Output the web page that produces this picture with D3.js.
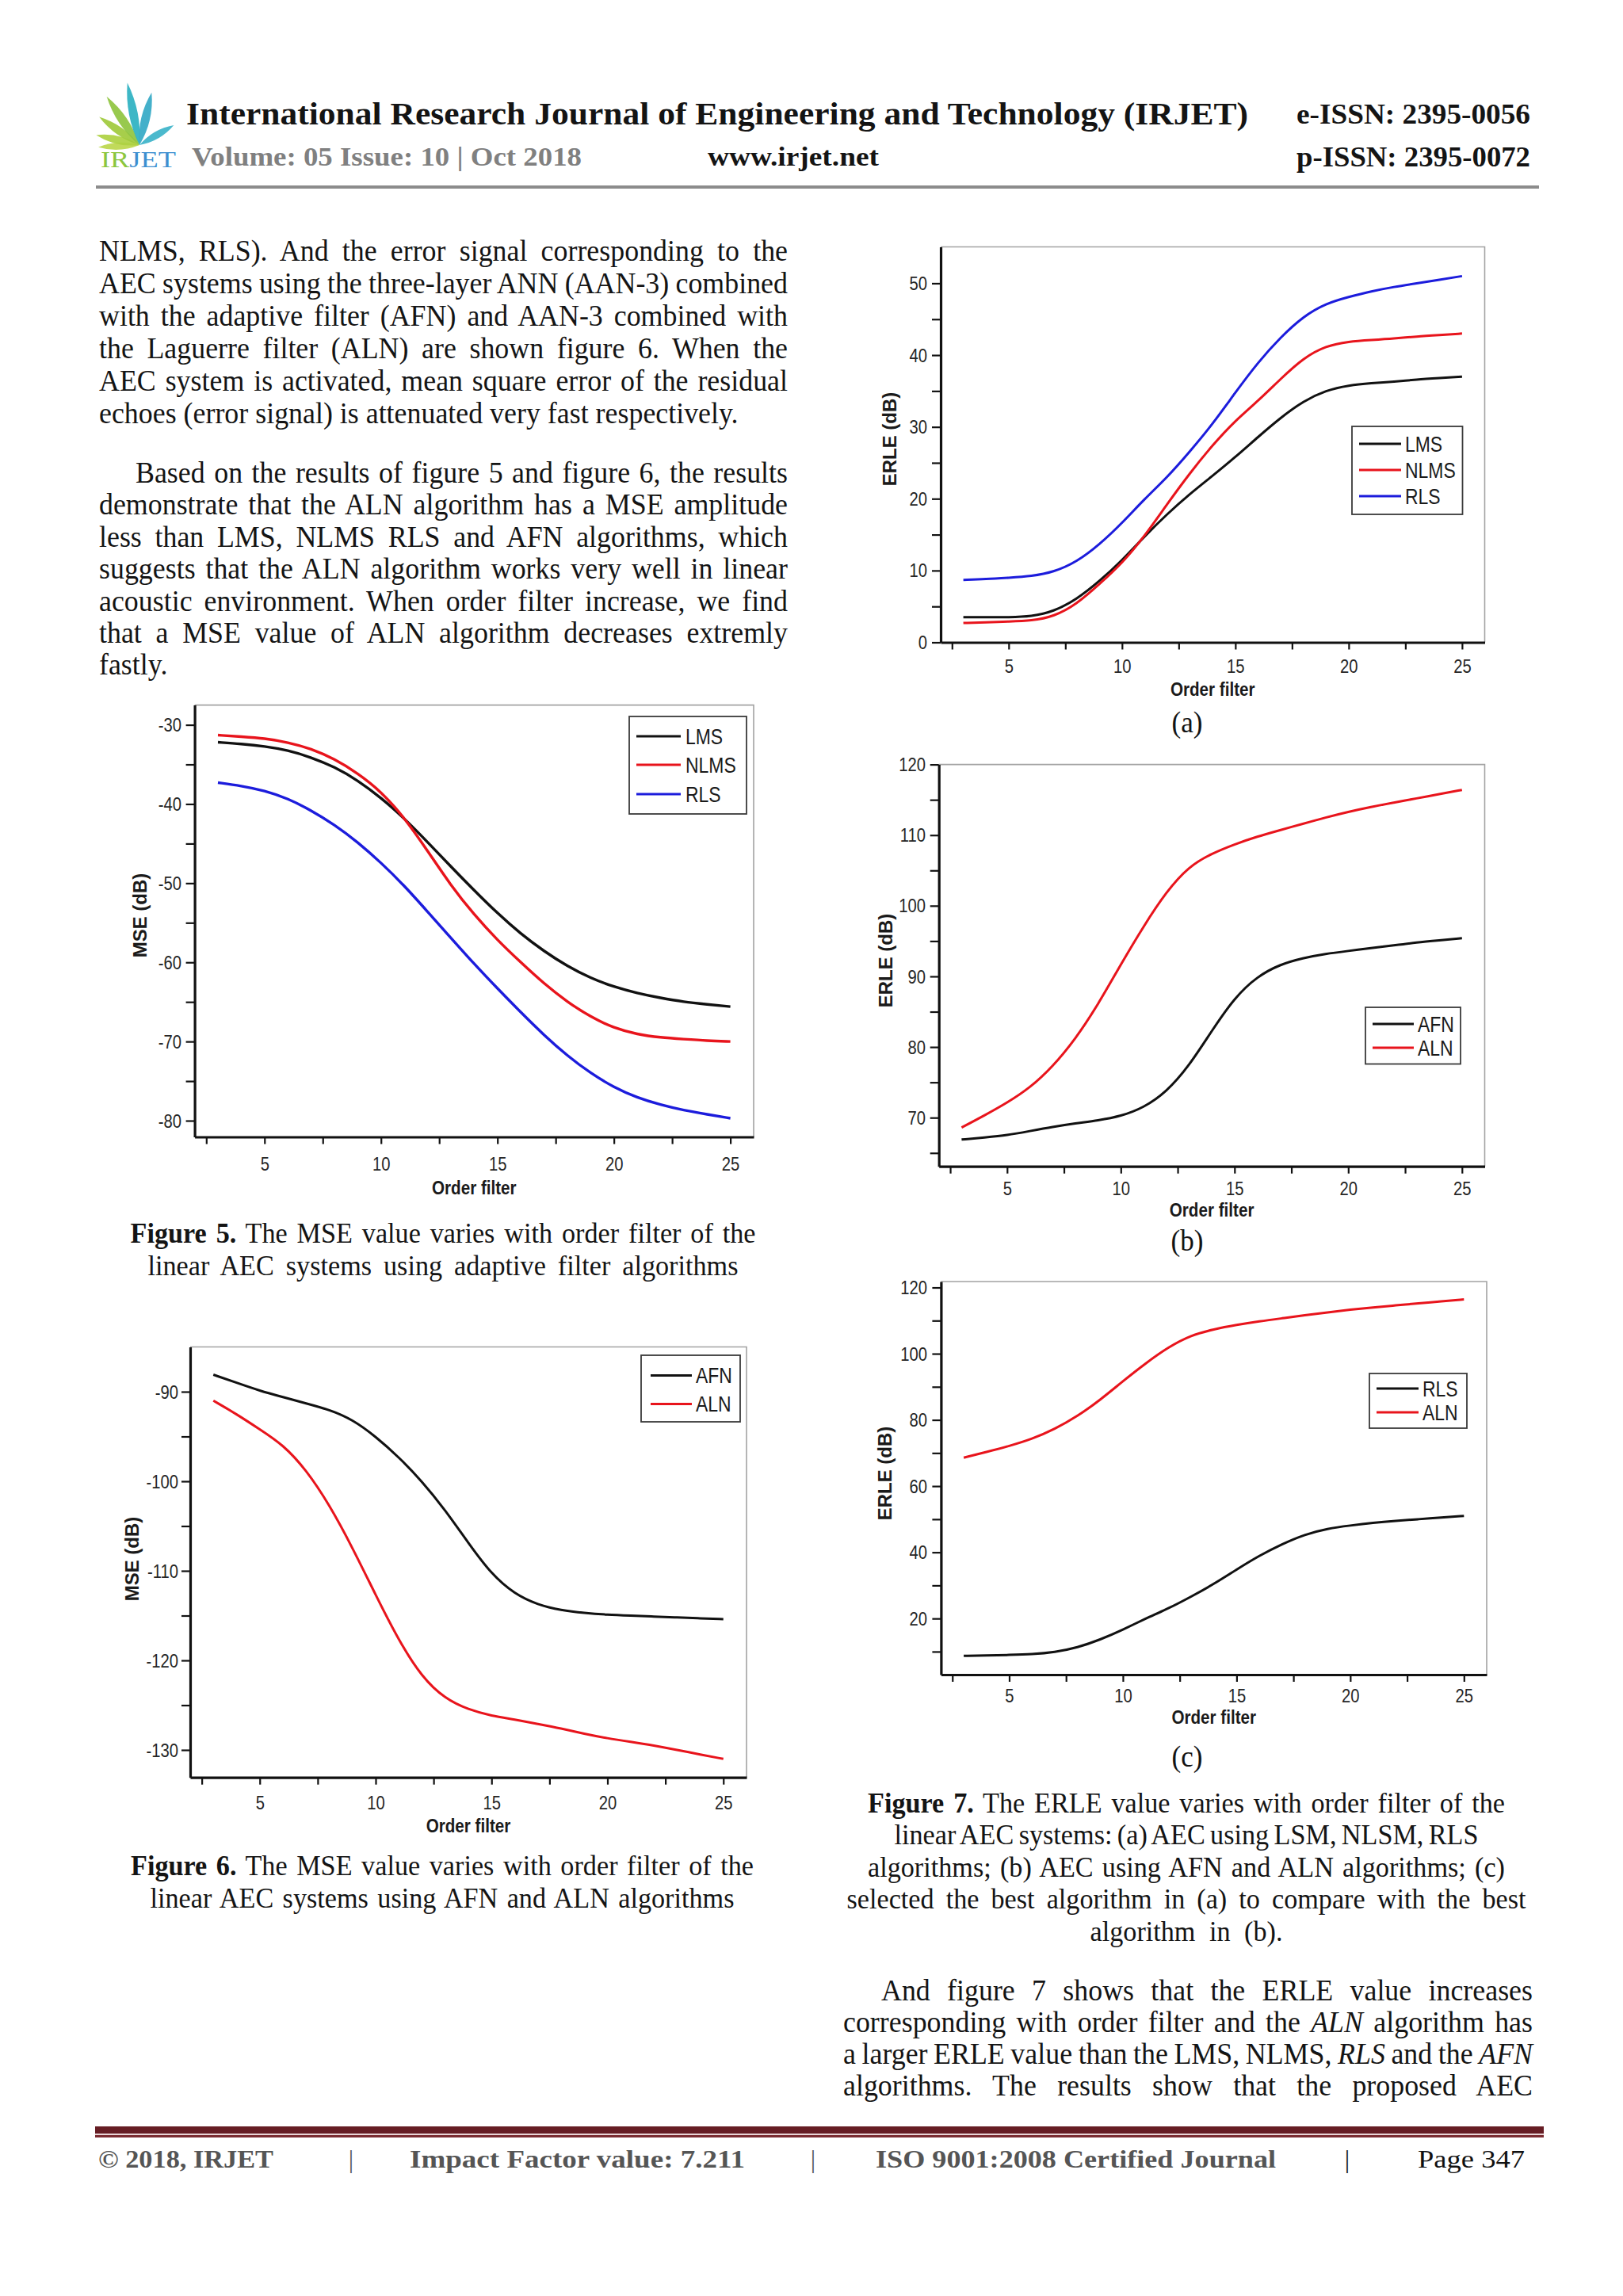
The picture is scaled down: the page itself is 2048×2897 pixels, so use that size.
<!DOCTYPE html>
<html>
<head>
<meta charset="utf-8">
<title>IRJET page 347</title>
<script src="https://cdn.jsdelivr.net/npm/d3@7"></script>
<style>
    body { margin: 0; padding: 0; background: #fff; }
    svg { display: block; }
</style>
</head>
<body>
<script>
    // order filter values shared by every figure
    const orderFilter = [3, 4, 5, 6, 7, 8, 9, 10, 11, 12, 13, 14, 15, 16, 17, 18, 19, 20, 21, 22, 23, 24, 25];

    // Figure 5: MSE (dB)
    const mseLMS  = [-32.2, -32.4, -32.7, -33.2, -34.1, -35.3, -37.0, -39.2, -41.8, -44.8, -47.9, -50.9, -53.8, -56.4, -58.6, -60.5, -62.0, -63.1, -63.9, -64.5, -65.0, -65.3, -65.6];
    const mseNLMS = [-31.3, -31.5, -31.7, -32.2, -33.0, -34.3, -36.1, -38.4, -41.7, -45.9, -50.3, -54.0, -57.2, -60.0, -62.7, -65.0, -66.9, -68.3, -69.1, -69.5, -69.7, -69.9, -70.0];
    const mseRLS  = [-37.3, -37.7, -38.3, -39.3, -40.8, -42.6, -44.8, -47.4, -50.3, -53.6, -56.9, -60.2, -63.3, -66.3, -69.2, -71.8, -74.0, -75.8, -77.1, -78.0, -78.7, -79.2, -79.7];

    // Figure 6: MSE (dB)
    const mseAFN = [-88.1, -89.0, -89.9, -90.6, -91.3, -92.0, -93.1, -95.0, -97.3, -100.0, -103.2, -106.9, -110.4, -112.6, -113.8, -114.4, -114.7, -114.9, -115.0, -115.1, -115.2, -115.3, -115.4];
    const mseALN = [-91.0, -92.5, -94.2, -95.9, -98.7, -102.6, -107.4, -112.7, -117.8, -121.9, -124.3, -125.5, -126.2, -126.6, -127.1, -127.6, -128.2, -128.7, -129.1, -129.5, -130.0, -130.5, -131.0];

    // Figure 7: ERLE (dB)
    const erleLMS  = [3.5, 3.5, 3.5, 3.6, 4.3, 6.0, 8.5, 11.4, 14.8, 17.9, 20.7, 23.2, 25.8, 28.6, 31.3, 33.6, 35.1, 35.8, 36.1, 36.3, 36.6, 36.8, 37.0];
    const erleNLMS = [2.7, 2.8, 2.9, 3.0, 3.6, 5.3, 8.1, 11.0, 14.8, 19.3, 23.6, 27.5, 30.9, 33.6, 36.7, 39.6, 41.3, 41.9, 42.1, 42.3, 42.6, 42.8, 43.0];
    const erleRLS  = [8.7, 8.8, 9.0, 9.2, 9.8, 11.2, 13.6, 16.6, 20.0, 23.0, 26.6, 30.4, 34.8, 39.0, 42.5, 45.4, 47.2, 48.1, 48.9, 49.5, 50.0, 50.5, 51.0];
    const erleAFN  = [66.9, 67.2, 67.5, 68.1, 68.7, 69.2, 69.6, 70.2, 71.4, 73.6, 77.3, 82.3, 87.0, 90.0, 91.7, 92.6, 93.2, 93.6, 94.0, 94.4, 94.8, 95.1, 95.4];
    const erleALN  = [68.6, 70.3, 72.1, 74.2, 77.2, 81.1, 86.0, 91.7, 97.1, 102.0, 105.6, 107.4, 108.7, 109.8, 110.7, 111.6, 112.5, 113.3, 114.0, 114.6, 115.2, 115.8, 116.4];

    // ticks
    const xTicks = [2.5, 5, 7.5, 10, 12.5, 15, 17.5, 20, 22.5, 25];
    const fig5YTicks = [-80, -75, -70, -65, -60, -55, -50, -45, -40, -35, -30];
    const fig6YTicks = [-130, -125, -120, -115, -110, -105, -100, -95, -90];
    const fig7aYTicks = [0, 5, 10, 15, 20, 25, 30, 35, 40, 45, 50];
    const fig7bYTicks = [65, 70, 75, 80, 85, 90, 95, 100, 105, 110, 115, 120];
    const fig7cYTicks = [10, 20, 30, 40, 50, 60, 70, 80, 90, 100, 110, 120];

    const BLACK = "#111111", RED = "#e8141c", BLUE = "#1c1cdc";
    const SANS = "'Liberation Sans', Arial, sans-serif";
    const SERIF = "'Liberation Serif', 'Times New Roman', serif";

    const svg = d3.select("body").append("svg")
        .attr("width", 2048)
        .attr("height", 2897);

    svg.append("rect").attr("width", 2048).attr("height", 2897).attr("fill", "#fff");

    // ---------- text helpers ----------
    function parseParts(str) {
        return str.split(/(\*\*[^*]+\*\*|\*[^*]+\*)/).filter(s => s.length).map(s => {
            if (s.startsWith("**")) return { t: s.slice(2, -2), b: true };
            if (s.startsWith("*")) return { t: s.slice(1, -1), i: true };
            return { t: s };
        });
    }

    // o.sx squeezes the glyphs sideways (the page font is a bit narrower than Liberation Serif)
    function textLine(str, x, y, o) {
        const sx = o.sx || 1;
        const t = svg.append("text")
            .attr("transform", `translate(${x},${y}) scale(${sx},1)`)
            .attr("dy", "0.35em")
            .attr("font-family", o.family || SERIF)
            .attr("font-size", o.size)
            .attr("font-weight", o.weight || null)
            .attr("fill", o.color || "#141414")
            .attr("text-anchor", o.anchor || "start")
            .style("white-space", "pre");
        const parts = parseParts(str);
        parts.forEach(p => {
            t.append("tspan").text(p.t)
                .attr("font-style", p.i ? "italic" : null)
                .attr("font-weight", p.b ? "bold" : null);
        });
        if (o.width) {
            const w = t.node().getComputedTextLength();
            const n = (parts.map(p => p.t).join("").match(/ /g) || []).length;
            if (n) t.style("word-spacing", ((o.width / sx - w) / n) + "px");
        }
        if (o.length) {
            t.attr("textLength", o.length / sx).attr("lengthAdjust", "spacingAndGlyphs");
        }
        return t;
    }

    function paragraph(lines, o) {
        lines.forEach((line, i) => {
            const first = i === 0 && o.indent;
            const x = first ? o.x + o.indent : o.x;
            const justify = o.justifyLast || i < lines.length - 1;
            textLine(line, x, o.y + i * o.step, {
                size: o.size,
                sx: 0.97,
                width: justify ? o.width - (first ? o.indent : 0) : null
            });
        });
    }

    // ---------- header ----------
    const logo = svg.append("g").attr("transform", "translate(176,183)");
    const petals = [
        { a: -93, len: 52, w: 9, c: "#bcd74c" },
        { a: -77, len: 56, w: 10, c: "#aed141" },
        { a: -55, len: 62, w: 10, c: "#9fca3c" },
        { a: -34, len: 74, w: 11, c: "#8fc43f" },
        { a: -11, len: 80, w: 11, c: "#2cb1c1" },
        { a: 13, len: 68, w: 11, c: "#34a9c6" },
        { a: 60, len: 50, w: 9, c: "#3cb3c9" }
    ];
    logo.selectAll("path").data(petals).join("path")
        .attr("d", d => `M0,0Q${d.w},${-d.len / 2} 0,${-d.len}Q${-d.w},${-d.len / 2} 0,0Z`)
        .attr("fill", d => d.c)
        .attr("opacity", 0.92)
        .attr("transform", d => `rotate(${d.a})`);

    const irjet = svg.append("text")
        .attr("x", 127).attr("y", 200).attr("dy", "0.35em")
        .attr("font-family", SERIF).attr("font-size", 30)
        .attr("textLength", 95).attr("lengthAdjust", "spacingAndGlyphs");
    irjet.append("tspan").text("IR").attr("fill", "#8cc63e");
    irjet.append("tspan").text("JET").attr("fill", "#3d8fd0");

    textLine("International Research Journal of Engineering and Technology (IRJET)", 235, 143,
        { size: 40, weight: "bold", length: 1340 });
    textLine("e-ISSN: 2395-0056", 1636, 143, { size: 36, weight: "bold", length: 295 });
    textLine("Volume: 05 Issue: 10 | Oct 2018", 242, 197, { size: 34, weight: "bold", length: 492, color: "#808080" });
    textLine("www.irjet.net", 893, 197, { size: 34, weight: "bold", length: 216 });
    textLine("p-ISSN: 2395-0072", 1636, 197, { size: 36, weight: "bold", length: 295 });

    svg.append("rect").attr("x", 121).attr("y", 234).attr("width", 1821).attr("height", 4).attr("fill", "#8c8c8c");

    // ---------- body text ----------
    const leftPara1 = [
        "NLMS, RLS). And the error signal corresponding to the",
        "AEC systems using the three-layer ANN (AAN-3) combined",
        "with the adaptive filter (AFN) and AAN-3 combined with",
        "the Laguerre filter (ALN) are shown figure 6. When the",
        "AEC system is activated, mean square error of the residual",
        "echoes (error signal) is attenuated very fast respectively."
    ];
    const leftPara2 = [
        "Based on the results of figure 5 and figure 6, the results",
        "demonstrate that the ALN algorithm has a MSE amplitude",
        "less than LMS, NLMS RLS and AFN algorithms, which",
        "suggests that the ALN algorithm works very well in linear",
        "acoustic environment. When order filter increase, we find",
        "that a MSE value of ALN algorithm decreases extremly",
        "fastly."
    ];
    const rightPara = [
        "And figure 7 shows that the ERLE value increases",
        "corresponding with order filter and the *ALN* algorithm has",
        "a larger ERLE value than the LMS, NLMS, *RLS* and the *AFN*",
        "algorithms. The results show that the proposed AEC"
    ];
    paragraph(leftPara1, { x: 125, y: 316, step: 41, width: 869, size: 37 });
    paragraph(leftPara2, { x: 125, y: 596, step: 40.4, width: 869, size: 37, indent: 46 });
    paragraph(rightPara, { x: 1064, y: 2511, step: 40, width: 870, size: 37, indent: 48, justifyLast: true });

    const fig5Caption = ["**Figure 5.** The MSE value varies with order filter of the",
        "linear AEC systems using adaptive filter algorithms"];
    const fig6Caption = ["**Figure 6.** The MSE value varies with order filter of the",
        "linear AEC systems using AFN and ALN algorithms"];
    const fig7Caption = ["**Figure 7.** The ERLE value varies with order filter of the",
        "linear AEC systems: (a) AEC using LSM, NLSM, RLS",
        "algorithms; (b) AEC using AFN and ALN algorithms; (c)",
        "selected the best algorithm in (a) to compare with the best",
        "algorithm in (b)."];
    const cap = { size: 36, sx: 0.95, anchor: "middle" };
    [789, 745].forEach((w, i) => textLine(fig5Caption[i], 559, 1555 + i * 41, { ...cap, width: w }));
    [786, 737].forEach((w, i) => textLine(fig6Caption[i], 558, 2353 + i * 41, { ...cap, width: w }));
    [804, 737, 804, 857, 243].forEach((w, i) => textLine(fig7Caption[i], 1497, 2274 + i * 40.6, { ...cap, width: w }));

    textLine("(a)", 1498, 911, { size: 37, sx: 0.95, anchor: "middle" });
    textLine("(b)", 1498, 1565, { size: 37, sx: 0.95, anchor: "middle" });
    textLine("(c)", 1498, 2216, { size: 37, sx: 0.95, anchor: "middle" });

    // ---------- charts ----------
    function drawChart(c) {
        const g = svg.append("g");
        const x = d3.scaleLinear().domain([2, 26]).range([c.left, c.right]);
        const y = d3.scaleLinear().domain(c.yDomain).range([c.bottom, c.top]);

        g.append("path")
            .attr("d", `M${c.left},${c.top}H${c.right}V${c.bottom}`)
            .attr("fill", "none")
            .attr("stroke", "#a3a3a3")
            .attr("stroke-width", 1.6);

        const line = d3.line()
            .x(d => x(d[0]))
            .y(d => y(d[1]))
            .curve(d3.curveBasis);

        c.series.forEach(s => {
            g.append("path")
                .datum(orderFilter.map((o, i) => [o, s.values[i]]))
                .attr("d", line)
                .attr("fill", "none")
                .attr("stroke", s.color)
                .attr("stroke-width", c.lineWidth || 3);
        });

        const xAxis = g.append("g")
            .attr("transform", `translate(0,${c.bottom})`)
            .call(d3.axisBottom(x).tickValues(xTicks).tickSize(9).tickSizeOuter(0)
                .tickFormat(d => d % 5 === 0 ? String(d) : ""));
        xAxis.attr("font-family", SANS).attr("font-size", 23);
        xAxis.select(".domain").attr("stroke", BLACK).attr("stroke-width", 3.2);
        xAxis.selectAll(".tick line").attr("stroke", BLACK).attr("stroke-width", 2.2);
        xAxis.selectAll(".tick text")
            .attr("y", c.xLabelY - c.bottom)
            .attr("dy", "0.35em")
            .attr("fill", "#262626")
            .attr("transform", "scale(0.88,1)");

        const yAxis = g.append("g")
            .attr("transform", `translate(${c.left},0)`)
            .call(d3.axisLeft(y).tickValues(c.yTicks).tickSize(11).tickSizeOuter(0)
                .tickFormat(d => d % c.labelEvery === 0 ? String(d) : ""));
        yAxis.attr("font-family", SANS).attr("font-size", 23);
        yAxis.select(".domain").attr("stroke", BLACK).attr("stroke-width", 3.2);
        yAxis.selectAll(".tick line").attr("stroke", BLACK).attr("stroke-width", 2.2);
        yAxis.selectAll(".tick text")
            .attr("x", -(c.left - c.yLabelX) / 0.88)
            .attr("dy", "0.35em")
            .attr("fill", "#262626")
            .attr("transform", "scale(0.88,1)");

        g.append("text")
            .attr("transform", `translate(${(c.left + c.right) / 2},${c.xTitleY}) scale(0.86,1)`)
            .attr("dy", "0.35em")
            .attr("text-anchor", "middle")
            .attr("font-family", SANS)
            .attr("font-size", 24)
            .attr("font-weight", "bold")
            .attr("fill", "#1a1a1a")
            .text("Order filter");

        g.append("text")
            .attr("transform", `translate(${c.yTitle.x},${c.yTitle.y}) rotate(-90)`)
            .attr("dy", "0.35em")
            .attr("text-anchor", "middle")
            .attr("font-family", SANS)
            .attr("font-size", 24)
            .attr("font-weight", "bold")
            .attr("fill", "#1a1a1a")
            .text(c.yTitle.text);

        const L = c.legend;
        g.append("rect")
            .attr("x", L.x0).attr("y", L.y0)
            .attr("width", L.x1 - L.x0).attr("height", L.y1 - L.y0)
            .attr("fill", "#fff")
            .attr("stroke", "#3a3a3a")
            .attr("stroke-width", 1.8);
        c.series.forEach((s, i) => {
            g.append("line")
                .attr("x1", L.lineX[0]).attr("x2", L.lineX[1])
                .attr("y1", L.rows[i]).attr("y2", L.rows[i])
                .attr("stroke", s.color)
                .attr("stroke-width", 3);
            g.append("text")
                .attr("transform", `translate(${L.textX},${L.rows[i]}) scale(0.85,1)`)
                .attr("dy", "0.36em")
                .attr("font-family", SANS)
                .attr("font-size", 27)
                .attr("fill", "#1a1a1a")
                .text(s.name);
        });
    }

    const charts = [
        {
            left: 245.6, right: 951, top: 889.6, bottom: 1434.5,
            yDomain: [-82.05, -27.5], yTicks: fig5YTicks, labelEvery: 10, lineWidth: 3.4,
            series: [
                { name: "LMS", values: mseLMS, color: BLACK },
                { name: "NLMS", values: mseNLMS, color: RED },
                { name: "RLS", values: mseRLS, color: BLUE }
            ],
            legend: { x0: 794, x1: 942, y0: 904, y1: 1027, rows: [929, 965, 1002], lineX: [803, 859], textX: 865 },
            yTitle: { text: "MSE (dB)", x: 177, y: 1155 },
            xTitleY: 1499, xLabelY: 1468.5, yLabelX: 229
        },
        {
            left: 240, right: 942, top: 1699.5, bottom: 2242.7,
            yDomain: [-133.07, -85], yTicks: fig6YTicks, labelEvery: 10,
            series: [
                { name: "AFN", values: mseAFN, color: BLACK },
                { name: "ALN", values: mseALN, color: RED }
            ],
            legend: { x0: 809, x1: 934, y0: 1710, y1: 1794, rows: [1735.6, 1771.6], lineX: [821, 873], textX: 878 },
            yTitle: { text: "MSE (dB)", x: 167, y: 1967 },
            xTitleY: 2304, xLabelY: 2274.5, yLabelX: 225
        },
        {
            left: 1187, right: 1873.5, top: 311.5, bottom: 810.5,
            yDomain: [0, 55.07], yTicks: fig7aYTicks, labelEvery: 10,
            series: [
                { name: "LMS", values: erleLMS, color: BLACK },
                { name: "NLMS", values: erleNLMS, color: RED },
                { name: "RLS", values: erleRLS, color: BLUE }
            ],
            legend: { x0: 1706, x1: 1845.5, y0: 538, y1: 649, rows: [560, 593, 626], lineX: [1715, 1768], textX: 1773 },
            yTitle: { text: "ERLE (dB)", x: 1123, y: 554 },
            xTitleY: 870, xLabelY: 841, yLabelX: 1170
        },
        {
            left: 1184.7, right: 1873.5, top: 964.6, bottom: 1471.7,
            yDomain: [63.1, 120], yTicks: fig7bYTicks, labelEvery: 10,
            series: [
                { name: "AFN", values: erleAFN, color: BLACK },
                { name: "ALN", values: erleALN, color: RED }
            ],
            legend: { x0: 1723, x1: 1843, y0: 1271, y1: 1342.5, rows: [1292, 1322], lineX: [1732, 1784], textX: 1789 },
            yTitle: { text: "ERLE (dB)", x: 1118, y: 1212 },
            xTitleY: 1527, xLabelY: 1500, yLabelX: 1168
        },
        {
            left: 1187.4, right: 1876, top: 1617, bottom: 2113,
            yDomain: [3.04, 121.8], yTicks: fig7cYTicks, labelEvery: 20,
            series: [
                { name: "RLS", values: erleRLS, color: BLACK },
                { name: "ALN", values: erleALN, color: RED }
            ],
            legend: { x0: 1728, x1: 1851, y0: 1733, y1: 1802, rows: [1752, 1782], lineX: [1737, 1790], textX: 1795 },
            yTitle: { text: "ERLE (dB)", x: 1117, y: 1859 },
            xTitleY: 2167, xLabelY: 2140, yLabelX: 1170
        }
    ];
    charts.forEach(drawChart);

    // ---------- footer ----------
    svg.append("rect").attr("x", 120).attr("y", 2683).attr("width", 1828).attr("height", 9).attr("fill", "#661d24");
    svg.append("rect").attr("x", 120).attr("y", 2692).attr("width", 1828).attr("height", 2).attr("fill", "#e9d5d6");
    svg.append("rect").attr("x", 120).attr("y", 2694).attr("width", 1828).attr("height", 3).attr("fill", "#7a2a30");

    textLine("© 2018, IRJET", 124, 2724, { size: 32, weight: "bold", length: 221, color: "#555" });
    textLine("|", 443, 2724, { size: 32, anchor: "middle", color: "#555" });
    textLine("Impact Factor value: 7.211", 517, 2724, { size: 32, weight: "bold", length: 423, color: "#555" });
    textLine("|", 1026, 2724, { size: 32, anchor: "middle", color: "#555" });
    textLine("ISO 9001:2008 Certified Journal", 1105, 2724, { size: 32, weight: "bold", length: 505, color: "#555" });
    textLine("|", 1700, 2724, { size: 32, anchor: "middle", color: "#111" });
    textLine("Page 347", 1789, 2724, { size: 32, length: 135, color: "#111" });
</script>
</body>
</html>
